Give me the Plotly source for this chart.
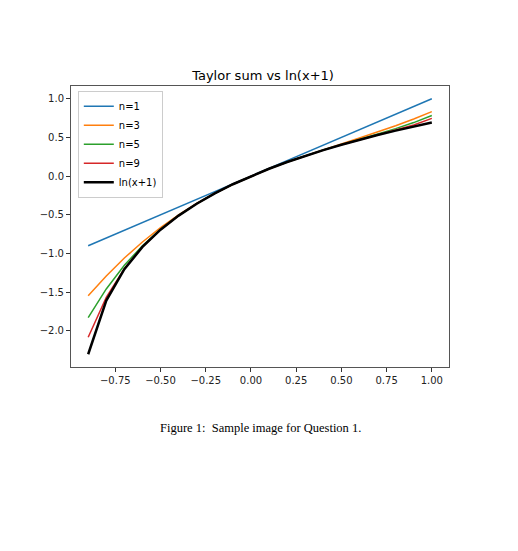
import plotly.graph_objects as go

# Taylor partial sums of ln(x+1)
x_vals = [-0.9, -0.8, -0.7, -0.6, -0.5, -0.4, -0.3, -0.2, -0.1, 0.0,
          0.1, 0.2, 0.3, 0.4, 0.5, 0.6, 0.7, 0.8, 0.9, 1.0]

n1 = [-0.9, -0.8, -0.7, -0.6, -0.5, -0.4, -0.3, -0.2, -0.1, 0.0,
      0.1, 0.2, 0.3, 0.4, 0.5, 0.6, 0.7, 0.8, 0.9, 1.0]
n3 = [-1.548, -1.291, -1.059, -0.852, -0.667, -0.501, -0.354, -0.223, -0.105, 0.0,
      0.095, 0.183, 0.264, 0.341, 0.417, 0.492, 0.569, 0.651, 0.738, 0.833]
n5 = [-1.830, -1.459, -1.153, -0.900, -0.689, -0.510, -0.357, -0.223, -0.105, 0.0,
      0.095, 0.182, 0.262, 0.337, 0.407, 0.475, 0.543, 0.614, 0.692, 0.783]
n9 = [-2.084, -1.568, -1.196, -0.915, -0.693, -0.511, -0.357, -0.223, -0.105, 0.0,
      0.095, 0.182, 0.262, 0.336, 0.406, 0.470, 0.532, 0.594, 0.661, 0.746]
ln_x1 = [-2.303, -1.609, -1.204, -0.916, -0.693, -0.511, -0.357, -0.223, -0.105, 0.0,
         0.095, 0.182, 0.262, 0.336, 0.405, 0.470, 0.531, 0.588, 0.642, 0.693]

series = [
    ("n=1", n1, "#1f77b4", 1.5),
    ("n=3", n3, "#ff7f0e", 1.5),
    ("n=5", n5, "#2ca02c", 1.5),
    ("n=9", n9, "#d62728", 1.5),
    ("ln(x+1)", ln_x1, "black", 2.5),
]

fig = go.Figure()
for name, ys, color, w in series:
    fig.add_trace(go.Scatter(x=x_vals, y=ys, mode="lines", name=name,
                             line=dict(color=color, width=w)))

axis_style = dict(showgrid=False, zeroline=False, showline=True, mirror=True,
                  linecolor="#555555", linewidth=1, ticks="outside", ticklen=4,
                  tickcolor="#333333", tickfont=dict(size=10, color="#222222"))

# page body has an 8px margin, so the figure is drawn 8px smaller and offset
W, H = 510, 543
top, bottom_edge = 78, 359

fig.update_layout(
    width=W, height=H,
    paper_bgcolor="white", plot_bgcolor="white",
    margin=dict(l=63, r=69, t=top, b=H - bottom_edge),
    font=dict(family="DejaVu Sans", color="#222222"),
    title=dict(text="Taylor sum vs ln(x+1)", x=0.5, xanchor="center",
               y=1 - 67 / H, yanchor="middle", font=dict(size=13, color="black")),
    xaxis=dict(range=[-0.995, 1.095], tickvals=[-0.75, -0.5, -0.25, 0, 0.25, 0.5, 0.75, 1.0],
               ticktext=["\u22120.75", "\u22120.50", "\u22120.25", "0.00", "0.25", "0.50", "0.75", "1.00"],
               **axis_style),
    yaxis=dict(range=[-2.468, 1.165], tickvals=[-2.0, -1.5, -1.0, -0.5, 0, 0.5, 1.0],
               ticktext=["\u22122.0", "\u22121.5", "\u22121.0", "\u22120.5", "0.0", "0.5", "1.0"],
               **axis_style),
    legend=dict(x=0.018, y=0.983, xanchor="left", yanchor="top",
                bgcolor="white", bordercolor="#cccccc", borderwidth=1,
                font=dict(size=10, color="black"), tracegroupgap=0,
                itemwidth=30),
    showlegend=True,
    annotations=[dict(text="Figure 1:  Sample image for Question 1.", xref="paper", yref="paper",
                      x=0.5, y=-(420 - bottom_edge) / (bottom_edge - top), xanchor="center",
                      yanchor="middle", showarrow=False,
                      font=dict(family="Liberation Serif", size=12.5, color="black"))],
)

fig.write_html("out.html")
